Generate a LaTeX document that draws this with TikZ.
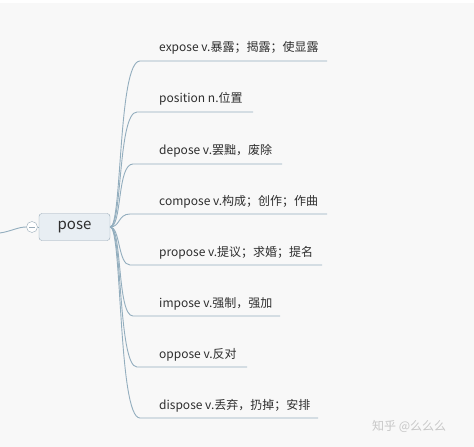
\documentclass[tikz,border=0pt]{standalone}
\usepackage{fontspec}
\setmainfont{Noto Sans CJK SC}
\definecolor{bgcol}{HTML}{F8F8F8}
\definecolor{linecol}{HTML}{93AEBE}
\definecolor{boxfill}{HTML}{E8EEF3}
\definecolor{boxline}{HTML}{98AAB8}
\definecolor{txtcol}{HTML}{2E2E2E}
\tikzset{
  branch/.style={anchor=base west, inner sep=0pt, text=txtcol, font=\fontsize{12}{14}\selectfont},
  link/.style={linecol, line width=0.9pt}
}

\begin{document}
\begin{tikzpicture}[x=1pt,y=-1pt]
\useasboundingbox (0,0) rectangle (474,447);
\fill[bgcol] (0,0) rectangle (474,447);
\fill[white] (0,0) rectangle (474,3);
% root
\node[draw=boxline, fill=boxfill, rounded corners=3pt, minimum width=71pt, minimum height=27pt, inner sep=0pt, text=txtcol, font=\fontsize{15}{17}\selectfont] (pose) at (74.5,227) {pose};
\node[circle, draw=boxline, fill=white, minimum size=11pt, inner sep=0pt] (fold) at (32,227) {};
\draw[boxline, line width=0.8pt] ([xshift=-3pt]fold.center) -- ([xshift=3pt]fold.center);
\draw[link] (fold.east) -- (pose.west);
\coordinate (in) at (0,233);
\draw[link] (in) .. controls (12,231) and (18,227) .. (fold.west);
% words
\node[branch] (expose) at (159,51) {expose v.暴露；揭露；使显露};
\node[branch] (position) at (159,102) {position n.位置};
\node[branch] (depose) at (159,154) {depose v.罢黜，废除};
\node[branch] (compose) at (159,205) {compose v.构成；创作；作曲};
\node[branch] (propose) at (159,256) {propose v.提议；求婚；提名};
\node[branch] (impose) at (159,307) {impose v.强制，强加};
\node[branch] (oppose) at (159,358) {oppose v.反对};
\node[branch] (dispose) at (159,409) {dispose v.丢弃，扔掉；安排};
% underlines
\coordinate (u1) at (140,61);
\coordinate (u2) at (137,112);
\coordinate (u3) at (133,164);
\coordinate (u4) at (130,214);
\coordinate (u5) at (130,265);
\coordinate (u6) at (133,316);
\coordinate (u7) at (137,367);
\coordinate (u8) at (140,418);
\draw[link] (pose.east) .. controls +(12,0) and +(-22,0) .. (u1) -- (327,61);
\draw[link] (pose.east) .. controls +(12,0) and +(-19,0) .. (u2) -- (253,112);
\draw[link] (pose.east) .. controls +(12,0) and +(-16,0) .. (u3) -- (282,164);
\draw[link] (pose.east) .. controls +(10,0) and +(-12,0) .. (u4) -- (327,214);
\draw[link] (pose.east) .. controls +(10,0) and +(-12,0) .. (u5) -- (322,265);
\draw[link] (pose.east) .. controls +(12,0) and +(-16,0) .. (u6) -- (280,316);
\draw[link] (pose.east) .. controls +(12,0) and +(-19,0) .. (u7) -- (247,367);
\draw[link] (pose.east) .. controls +(12,0) and +(-22,0) .. (u8) -- (318,418);
% watermark
\node[anchor=base west, inner sep=0pt, text=black!22, font=\fontsize{12}{14}\selectfont] (mark) at (372,430) {知乎 @么么么};
\end{tikzpicture}
\end{document}
